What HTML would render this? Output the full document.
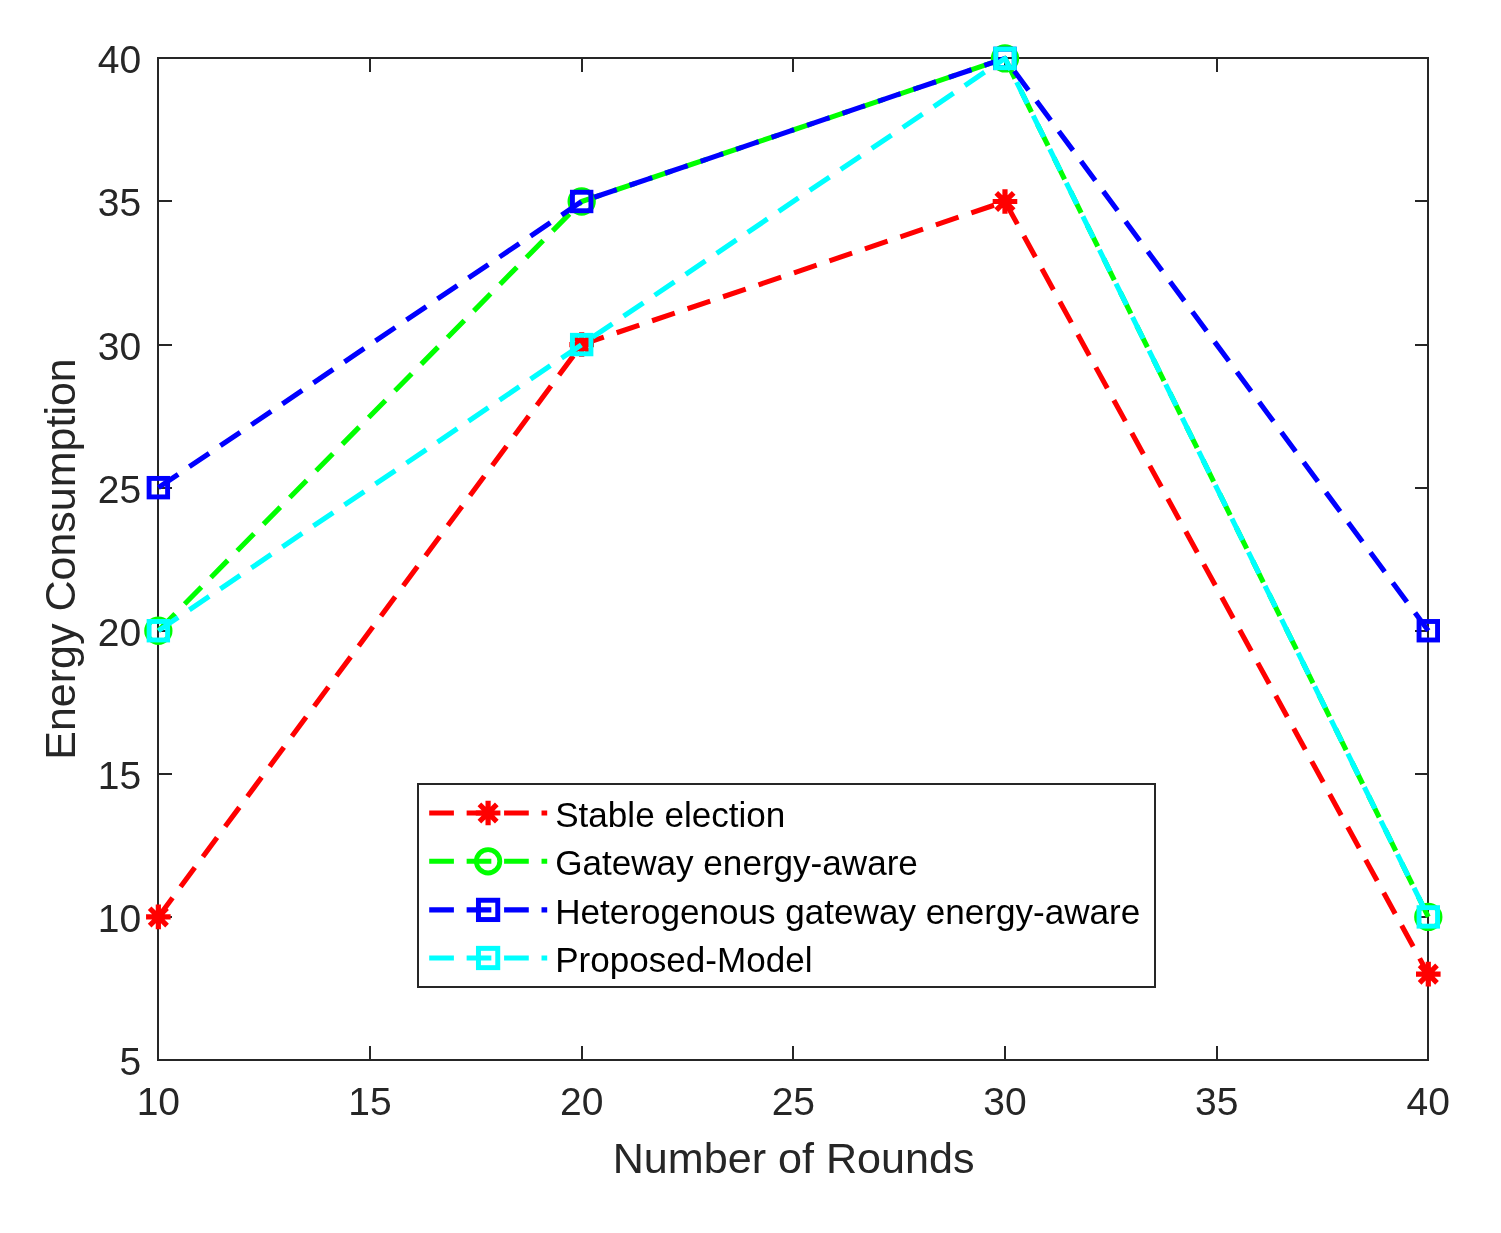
<!DOCTYPE html>
<html lang="en"><head><meta charset="utf-8"><title>Energy Consumption vs Number of Rounds</title>
<style>html,body{margin:0;padding:0;background:#fff}svg{display:block}text{font-family:"Liberation Sans",Arial,Helvetica,sans-serif}</style></head><body>
<svg width="1501" height="1233" viewBox="0 0 1501 1233">
<rect width="1501" height="1233" fill="#fff"/>
<g stroke="#262626" stroke-width="2" fill="none">
<path d="M158 1060V1046M158 58V72M370 1060V1046M370 58V72M582 1060V1046M582 58V72M793 1060V1046M793 58V72M1005 1060V1046M1005 58V72M1217 1060V1046M1217 58V72M1428 1060V1046M1428 58V72M158 1060H172M1428 1060H1415M158 917H172M1428 917H1415M158 774H172M1428 774H1415M158 631H172M1428 631H1415M158 488H172M1428 488H1415M158 345H172M1428 345H1415M158 201H172M1428 201H1415M158 58H172M1428 58H1415"/>
<rect x="158" y="58" width="1270" height="1002"/>
</g>
<g fill="#262626" font-size="39">
<g text-anchor="middle">
<text x="158.35" y="1114.6">10</text>
<text x="370.01" y="1114.6">15</text>
<text x="581.67" y="1114.6">20</text>
<text x="793.33" y="1114.6">25</text>
<text x="1004.98" y="1114.6">30</text>
<text x="1216.64" y="1114.6">35</text>
<text x="1428.3" y="1114.6">40</text>
</g><g text-anchor="end">
<text x="141.1" y="1075">5</text>
<text x="141.1" y="931.91">10</text>
<text x="141.1" y="788.83">15</text>
<text x="141.1" y="645.74">20</text>
<text x="141.1" y="502.66">25</text>
<text x="141.1" y="359.57">30</text>
<text x="141.1" y="216.49">35</text>
<text x="141.1" y="73.4">40</text>
</g></g>
<g fill="#262626" font-size="43" text-anchor="middle">
<text x="793.6" y="1172.9" font-size="43.1">Number of Rounds</text>
<text transform="translate(75.4 559) rotate(-90)">Energy Consumption</text>
</g>
<g>
<path d="M146.05 916.91H170.65M158.35 904.61V929.21M149.65 908.22L167.05 925.61M149.65 925.61L167.05 908.22" fill="none" stroke="#ff0000" stroke-width="5.2"/>
<path d="M569.37 344.57H593.97M581.67 332.27V356.87M572.97 335.87L590.36 353.27M572.97 353.27L590.36 335.87" fill="none" stroke="#ff0000" stroke-width="5.2"/>
<path d="M992.68 201.49H1017.28M1004.98 189.19V213.79M996.29 192.79L1013.68 210.18M996.29 210.18L1013.68 192.79" fill="none" stroke="#ff0000" stroke-width="5.2"/>
<path d="M1416 974.15H1440.6M1428.3 961.85V986.45M1419.6 965.45L1437 982.85M1419.6 982.85L1437 965.45" fill="none" stroke="#ff0000" stroke-width="5.2"/>
<polyline points="158.35,916.91 581.67,344.57 1004.98,201.49 1428.3,974.15" fill="none" stroke="#ff0000" stroke-width="5.1" stroke-dasharray="23.9 13.54" stroke-linejoin="round"/>
</g>
<g>
<circle cx="158.35" cy="630.74" r="11.7" fill="none" stroke="#00ff00" stroke-width="4.9"/>
<circle cx="581.67" cy="201.49" r="11.7" fill="none" stroke="#00ff00" stroke-width="4.9"/>
<circle cx="1004.98" cy="58.4" r="11.7" fill="none" stroke="#00ff00" stroke-width="4.9"/>
<circle cx="1428.3" cy="916.91" r="11.7" fill="none" stroke="#00ff00" stroke-width="4.9"/>
<polyline points="158.35,630.74 581.67,201.49 1004.98,58.4 1428.3,916.91" fill="none" stroke="#00ff00" stroke-width="5.1" stroke-dasharray="23.9 13.54" stroke-linejoin="round"/>
</g>
<g>
<rect x="149.1" y="478.41" width="18.5" height="18.5" fill="none" stroke="#0000ff" stroke-width="4.9"/>
<rect x="572.42" y="192.24" width="18.5" height="18.5" fill="none" stroke="#0000ff" stroke-width="4.9"/>
<rect x="995.73" y="49.15" width="18.5" height="18.5" fill="none" stroke="#0000ff" stroke-width="4.9"/>
<rect x="1419.05" y="621.49" width="18.5" height="18.5" fill="none" stroke="#0000ff" stroke-width="4.9"/>
<polyline points="158.35,487.66 581.67,201.49 1004.98,58.4 1428.3,630.74" fill="none" stroke="#0000ff" stroke-width="5.1" stroke-dasharray="23.9 13.54" stroke-linejoin="round"/>
</g>
<g>
<rect x="149.1" y="621.49" width="18.5" height="18.5" fill="none" stroke="#00ffff" stroke-width="4.9"/>
<rect x="572.42" y="335.32" width="18.5" height="18.5" fill="none" stroke="#00ffff" stroke-width="4.9"/>
<rect x="995.73" y="49.15" width="18.5" height="18.5" fill="none" stroke="#00ffff" stroke-width="4.9"/>
<rect x="1419.05" y="907.66" width="18.5" height="18.5" fill="none" stroke="#00ffff" stroke-width="4.9"/>
<polyline points="158.35,630.74 581.67,344.57 1004.98,58.4 1428.3,916.91" fill="none" stroke="#00ffff" stroke-width="5.1" stroke-dasharray="23.9 13.54" stroke-linejoin="round"/>
</g>
<rect x="418" y="784" width="737" height="203" fill="#fff" stroke="#262626" stroke-width="2"/>
<g font-size="35.1" fill="#000">
<path d="M475.8 813H500.4M488.1 800.7V825.3M479.4 804.3L496.8 821.7M479.4 821.7L496.8 804.3" fill="none" stroke="#ff0000" stroke-width="5.2"/>
<path d="M429.2 813H547.2" fill="none" stroke="#ff0000" stroke-width="5.1" stroke-dasharray="24.7 12.74"/>
<text x="555.2" y="826.8">Stable election</text>
<circle cx="488.1" cy="861.3" r="11.7" fill="none" stroke="#00ff00" stroke-width="4.9"/>
<path d="M429.2 861.3H547.2" fill="none" stroke="#00ff00" stroke-width="5.1" stroke-dasharray="24.7 12.74"/>
<text x="555.2" y="875.1">Gateway energy-aware</text>
<rect x="478.45" y="900.25" width="19.3" height="19.3" fill="none" stroke="#0000ff" stroke-width="4.95"/>
<path d="M429.2 909.9H547.2" fill="none" stroke="#0000ff" stroke-width="5.1" stroke-dasharray="24.7 12.74"/>
<text x="555.2" y="923.5">Heterogenous gateway energy-aware</text>
<rect x="478.45" y="948.35" width="19.3" height="19.3" fill="none" stroke="#00ffff" stroke-width="4.95"/>
<path d="M429.2 958H547.2" fill="none" stroke="#00ffff" stroke-width="5.1" stroke-dasharray="24.7 12.74"/>
<text x="555.2" y="971.8">Proposed-Model</text>
</g>
</svg></body></html>
